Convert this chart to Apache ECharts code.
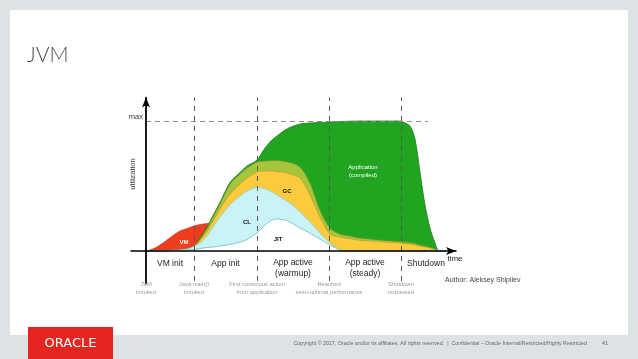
<!DOCTYPE html>
<html><head><meta charset="utf-8">
<script src="https://cdn.jsdelivr.net/npm/echarts@6.0.0/dist/echarts.min.js"></script>
<style>html,body{margin:0;padding:0;background:#dde3e5;}#c{width:638px;height:359px;}</style>
</head><body><div id="c"></div>
<script>
// time (arbitrary units) and utilization (max = 100)
const T     = [0,4,9,14,21,29,34,41,48,54, 61,67,74,84,94,101,111,119,126,131, 139,144,154,164,174,184,194,204,211,224, 239,254,257,264,269,274,279,284,289,293, 300];
const JIT   = [0,0,0,0,0,0.15,0.38,0.77,1.15,1.92, 2.69,3.08,3.85,5.0,6.92,8.85,13.85,20,23.85,24.62, 23.85,22.31,17.69,13.85,9.23,4.62,0.77,0,0,0, 0,0,0,0,0,0,0,0,0,0, 0];
const CL    = [0,0,0,0.15,0.3,0.46,0.38,0.77,2.31,4.23, 8.85,15.38,22.31,30.38,35.38,37.31,35.0,27.69,21.54,18.46, 15.38,14.62,12.31,8.46,4.62,1.54,0,0,0,0, 0,0,0,0,0,0,0,0,0,0, 0];
const GC    = [0,0,0,0,0,0,0,0,0,1.92, 3.46,4.62,6.15,8.46,9.23,10,11.92,13.85,16.15,18.08, 21.15,22.31,26.15,20.77,12.31,6.92,10,9.62,8.46,7.69, 6.92,6.15,5.77,5.38,4.62,3.85,3.08,2.31,1.15,0, 0];
const OTHER = [0,0,0,0,0,0,0,0,0,1.15, 2.31,3.08,3.85,7.69,7.69,7.69,7.69,7.69,8.08,8.46, 8.46,8.85,8.46,9.23,5.38,4.62,2.31,1.92,1.92,1.54, 1.15,1.15,1.15,1.15,1.15,0.77,0.77,0.38,0.38,0, 0];
const APP   = [0,0,0,0,0,0,0,0,0,0.77, 1.15,1.15,1.15,1.15,1.15,1.54,1.54,10,15.77,18.85, 24.23,26.92,33.08,46.15,67.31,81.54,86.54,88.31,89.62,90.77, 91.92,92.69,92.31,89.62,80.38,56.15,31.54,15.0,4.62,0, 0];
// VM activity: absolute top of the red area (drawn behind the stack)
const VM    = [0,0.77,2.31,4.62,8.46,13.08,15.38,17.31,19.23,20.38, 21.15,21.54,20.77,0,null,null,null,null,null,null, null,null,null,null,null,null,null,null,null,null, null,null,null,null,null,null,null,null,null,null, null];

const eventTimes  = [0, 48, 111, 183, 255];
const eventLabels = ['JVM\ninvoked','Java main()\ninvoked','First conscious action\nfrom application','Reached\nsemi-optimal performance','Shutdown\nrequested'];
const phaseLabels = ['VM init','App init','App active\n(warmup)','App active\n(steady)','Shutdown'];
const phaseEnd = 305;
const MAXV = 100;

const F = '"Liberation Sans", Arial, sans-serif';
// cumulative stacking (bottom -> top): JIT, CL, GC, other, application
const layers = [JIT, CL, GC, OTHER, APP];
const cum = [];
layers.forEach((arr, k) => cum.push(arr.map((v,i) => v + (k ? cum[k-1][i] : 0))));
const pair = a => T.map((t,i) => [t, a[i] == null ? null : +a[i].toFixed(3)]);

function areaSeries(name, arr, fill, edge, w, z) {
  return { name, type:'line', z, data: pair(arr), smooth:0.3, showSymbol:false, symbol:'none',
    lineStyle:{color:edge, width:w}, areaStyle:{color:fill, opacity:1, origin:'auto'}, animation:false, silent:true };
}

const chart = echarts.init(document.getElementById('c'), null, {renderer:'canvas'});
const vLines = eventTimes.slice(1).map(t => [{coord:[t,-23]},{coord:[t,118]}]);
const topSeries = areaSeries('JIT', cum[0], '#ffffff', '#86c8cc', 1, 8);
topSeries.markLine = {silent:true, symbol:'none', animation:false, label:{show:false}, z:9,
  lineStyle:{color:'#555', width:1, type:[5,5]},
  data:[ [{coord:[0,MAXV], lineStyle:{color:'#8a8a8a', width:1, type:[5,4]}},{coord:[282,MAXV]}] ].concat(vLines)};
const option = {
  backgroundColor:'#dde3e5',
  animation:false,
  grid:{left:131, right:182, top:97.6, bottom:75.5, containLabel:false},
  xAxis:{type:'value', min:-15, max:310, z:10, axisLine:{onZero:true, symbol:['none','arrow'], symbolSize:[6,10], lineStyle:{color:'#000', width:1.5}},
    axisTick:{show:false}, axisLabel:{show:false}, splitLine:{show:false}},
  yAxis:{type:'value', min:-25, max:118, z:10, axisLine:{onZero:true, symbol:['none','arrow'], symbolSize:[6,10], lineStyle:{color:'#000', width:1.8}},
    axisTick:{show:false}, axisLabel:{show:false}, splitLine:{show:false}},
  series:[
    areaSeries('VM', VM, '#ef3d20', '#b8321c', 0.6, 3),
    areaSeries('Application', cum[4], '#21a521', '#1c7a1c', 0.8, 4),
    areaSeries('Other', cum[3], '#a5c53b', '#6c8c2a', 0.7, 5),
    areaSeries('GC', cum[2], '#fcca3c', '#b99a35', 0.7, 6),
    areaSeries('CL', cum[1], '#c9f3f7', '#8ccfd4', 0.8, 7),
    topSeries
  ],
  graphic:[]
};
chart.setOption(option);

const px = (t,v) => chart.convertToPixel({gridIndex:0}, [t,v]);
function txt(x, y, text, size, color, opt) {
  opt = opt || {};
  return { type:'text', x, y, z:100, rotation: opt.rot || 0, silent:true,
    style:{ text, fill:color, font:(opt.weight||'normal')+' '+size+'px '+(opt.family||F),
      align:opt.align||'center', textAlign:opt.align||'center', verticalAlign:opt.va||'middle', textVerticalAlign:opt.va||'middle',
      lineHeight:opt.lh||size*1.25 } };
}
const g = [];
g.push({type:'rect', z:-10, shape:{x:10,y:10,width:618,height:325}, style:{fill:'#ffffff'}, silent:true});
g.push(txt(27, 55, 'JVM', 21, '#4d4d4d', {align:'left', family:'Lato, "Open Sans", sans-serif', weight:'300'}));
const bounds = eventTimes.concat([phaseEnd]);
phaseLabels.forEach((s,i) => {
  const p = px((bounds[i]+bounds[i+1])/2, 0);
  const two = s.indexOf('\n') >= 0;
  g.push(txt(p[0], two ? 268.5 : 263.5, s, 8.5, '#222', {lh:11}));
});
eventLabels.forEach((s,i) => {
  const p = px(eventTimes[i], 0);
  g.push(txt(p[0], 288, s, 5.8, '#9a9a9a', {lh:8}));
});
const pm = px(0, MAXV);
g.push(txt(pm[0]-3, pm[1]-4, 'max', 7.5, '#333', {align:'right'}));
g.push(txt(133, 174, 'utilization', 7.5, '#333', {rot:Math.PI/2}));
g.push(txt(455, 259, 'time', 8, '#222'));
g.push(txt(445, 280, 'Author: Aleksey Shipilev', 7, '#444', {align:'left'}));
g.push(txt(184, 242, 'VM', 6, '#ffffff', {weight:'bold'}));
g.push(txt(247, 222, 'CL', 6, '#111', {weight:'bold'}));
g.push(txt(287, 191, 'GC', 6, '#111', {weight:'bold'}));
g.push(txt(278, 239, 'JIT', 6, '#111', {weight:'bold'}));
g.push(txt(363, 171.5, 'Application\n(compiled)', 6, '#ffffff', {lh:7.5}));
g.push({type:'rect', z:50, shape:{x:28,y:327,width:85,height:32}, style:{fill:'#e3261f'}, silent:true});
g.push(txt(70.5, 343.5, 'ORACLE', 13, '#ffffff', {family:'"DejaVu Sans", sans-serif'}));
g.push(txt(293.5, 343.5, 'Copyright \u00a9 2017, Oracle and/or its affiliates. All rights reserved.  |  Confidential \u2013 Oracle Internal/Restricted/Highly Restricted', 5.3, '#666', {align:'left'}));
g.push(txt(605, 343.5, '41', 5.3, '#666'));
chart.setOption({graphic:g});
</script></body></html>
